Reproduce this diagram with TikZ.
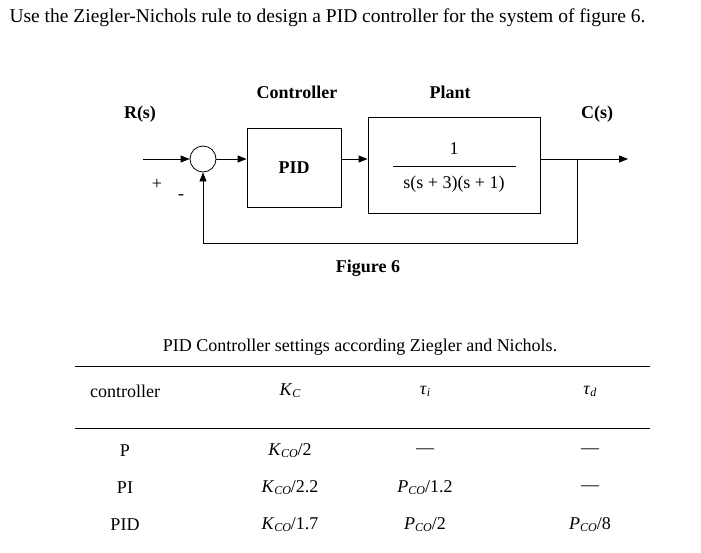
\documentclass[tikz,border=0pt]{standalone}
\usepackage{fontspec}
\setmainfont{Liberation Serif}
\usetikzlibrary{arrows.meta}
\newcommand{\ksub}[2]{\textit{#1}\raisebox{-0.25ex}{\fontsize{12}{14}\selectfont\textit{#2}}}
\begin{document}
\begin{tikzpicture}[x=1pt,y=-1pt,
  blk/.style={draw,line width=0.8pt,inner sep=0},
  sig/.style={line width=0.8pt,-{Triangle[length=9pt,width=7pt]}},
  lab/.style={font=\bfseries\fontsize{18}{20}\selectfont},
  txt/.style={font=\fontsize{18}{20}\selectfont}]
\useasboundingbox (0,0) rectangle (701,552);
\node[anchor=west,font=\fontsize{19.5}{22}\selectfont] (title) at (6,18) {Use the Ziegler-Nichols rule to design a PID controller for the system of figure 6.};
\node[draw,circle,line width=0.8pt,minimum size=26pt,inner sep=0] (sum) at (203,159) {};
\node[blk,minimum width=94pt,minimum height=79pt] (pid) at (294,167.5) {};
\node[lab] at (pid.center) {PID};
\node[blk,minimum width=172pt,minimum height=96pt] (plant) at (454,165) {};
\node[txt] (num) at (454,149) {1};
\node[txt] (den) at (454,184) {s(s + 3)(s + 1)};
\draw[line width=0.6pt] (393,166) -- (516,166);
\node[lab] (ctl) at (297,92) {Controller};
\node[lab] (plt) at (450,92) {Plant};
\node[lab] (R) at (140,114) {R(s)};
\node[lab] (C) at (597,114) {C(s)};
\node[txt] (plus) at (157,184) {+};
\node[txt] (minus) at (181,197) {-};
\coordinate (in) at (143,159);
\coordinate (out) at (628,159);
\coordinate (br) at (577,159);
\draw[sig] (in) -- (sum.west);
\draw[sig] (sum.east) -- (pid.west |- sum.east);
\draw[sig] (pid.east |- sum) -- (plant.west |- sum);
\draw[sig] (plant.east |- sum) -- (out);
\draw[sig] (br) -- (577,243) -- (203,243) -- (sum.south);
\node[lab] (fig) at (368,268) {Figure 6};
\node[txt] (cap) at (360,347) {PID Controller settings according Ziegler and Nichols.};
\draw[line width=0.8pt] (75,366) -- (650,366);
\draw[line width=0.8pt] (75,428) -- (650,428);
\node[txt] at (125,391) {controller};
\node[txt] at (290,391) {\ksub{K}{C}};
\node[txt] at (425,391) {\textit{τ}\raisebox{-0.25ex}{\fontsize{12}{14}\selectfont\textit{i}}};
\node[txt] at (590,391) {\textit{τ}\raisebox{-0.25ex}{\fontsize{12}{14}\selectfont\textit{d}}};
\node[txt] at (125,451) {P};
\node[txt] at (290,451) {\ksub{K}{CO}/2};
\node[txt] at (425,451) {—};
\node[txt] at (590,451) {—};
\node[txt] at (125,488) {PI};
\node[txt] at (290,488) {\ksub{K}{CO}/2.2};
\node[txt] at (425,488) {\ksub{P}{CO}/1.2};
\node[txt] at (590,488) {—};
\node[txt] at (125,525) {PID};
\node[txt] at (290,525) {\ksub{K}{CO}/1.7};
\node[txt] at (425,525) {\ksub{P}{CO}/2};
\node[txt] at (590,525) {\ksub{P}{CO}/8};
\end{tikzpicture}
\end{document}
